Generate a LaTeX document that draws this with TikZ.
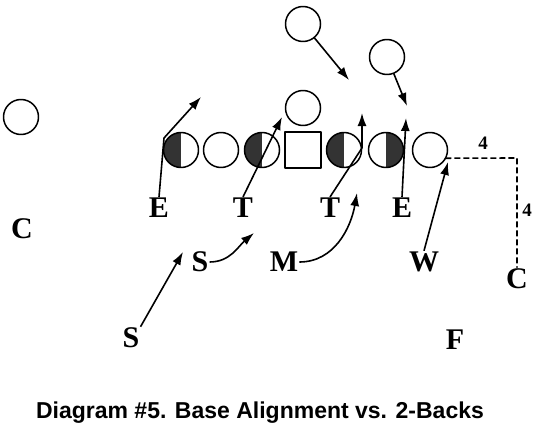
\documentclass[tikz,border=0pt]{standalone}
\usepackage{fontspec}
\setmainfont{Liberation Serif}
\newfontfamily\capfont{Liberation Sans}
\usetikzlibrary{arrows.meta}

\begin{document}
\begin{tikzpicture}[x=1pt,y=1pt,>={Latex[length=13pt,width=9pt]},line join=bevel,
  man/.style={minimum size=35pt,inner sep=0pt,outer sep=0,draw,line width=1.5pt,shape=circle},
  leftdark/.style={man,path picture={\fill[black!80] (path picture bounding box.south west) rectangle (path picture bounding box.north);}},
  rightdark/.style={man,path picture={\fill[black!80] (path picture bounding box.south) rectangle (path picture bounding box.north east);}},
  defender/.style={font=\bfseries\fontsize{30}{30}\selectfont,inner sep=1pt},
  run/.style={->,line width=1.6pt},
  split/.style={font=\bfseries\fontsize{19}{19}\selectfont,inner sep=0pt}]
\useasboundingbox (0,0) rectangle (548,440);
\node[man] (lb) at (21,323) {};
\node[man] (dp1) at (303,416) {};
\node[man] (dp2) at (387,383) {};
\node[man] (qb) at (303,332) {};
\node[leftdark] (ol1) at (181,290) {};
\node[man] (ol2) at (221,290) {};
\node[leftdark] (ol3) at (262,290) {};
\node[minimum size=36pt,inner sep=0pt,outer sep=0,draw,line width=1.5pt,shape=rectangle] (ctr) at (303,290) {};
\node[leftdark] (ol5) at (344,290) {};
\node[rightdark] (ol6) at (386,290) {};
\node[man] (ol7) at (430,290) {};
\node[defender] (c1) at (22,211) {C};
\node[defender] (eL) at (159,232) {E};
\node[defender] (tL) at (243,232) {T};
\node[defender] (tR) at (330,232) {T};
\node[defender] (eR) at (402,232) {E};
\node[defender] (s1) at (200,178) {S};
\node[defender] (m) at (284,178) {M};
\node[defender] (w) at (424,178) {W};
\node[defender] (c2) at (517,161) {C};
\node[defender] (s2) at (131,102) {S};
\node[defender] (f) at (455,100) {F};
\coordinate (bEL) at (164,302);
\coordinate (aEL) at (201,343);
\coordinate (aTL) at (282,323);
\coordinate (bTR) at (362,292);
\coordinate (aTR) at (362,327);
\coordinate (aER) at (406,322);
\coordinate (aS1) at (254,207);
\coordinate (aM) at (357,247);
\coordinate (aS2) at (183,188);
\coordinate (aW) at (448,278);
\coordinate (aD1) at (349,360);
\coordinate (aD2) at (407,334);
\coordinate (corner) at (517,282);
\draw[run] (eL.north) -- (bEL) -- (aEL);
\draw[run] (tL.north) -- (aTL);
\draw[run] (tR.north) -- (bTR) -- (aTR);
\draw[run] (eR.north) -- (aER);
\draw[run] (s1.east) to[out=0,in=220] (aS1);
\draw[run] (m.east) to[out=0,in=260] (aM);
\draw[run] (s2.north east) -- (aS2);
\draw[run] (w.north) -- (aW);
\draw[run] (dp1) -- (aD1);
\draw[run] (dp2) -- (aD2);
\draw[dash pattern=on 6pt off 3pt,line width=1.6pt] (ol7.-28) -- (corner) -- (c2.north);
\node[split] (n1) at (483,297) {4};
\node[split] (n2) at (527,230) {4};
\node[font=\capfont\bfseries\fontsize{23}{23}\selectfont] (title) at (260,27) {Diagram \#5. Base Alignment vs. 2-Backs};
\end{tikzpicture}
\end{document}
